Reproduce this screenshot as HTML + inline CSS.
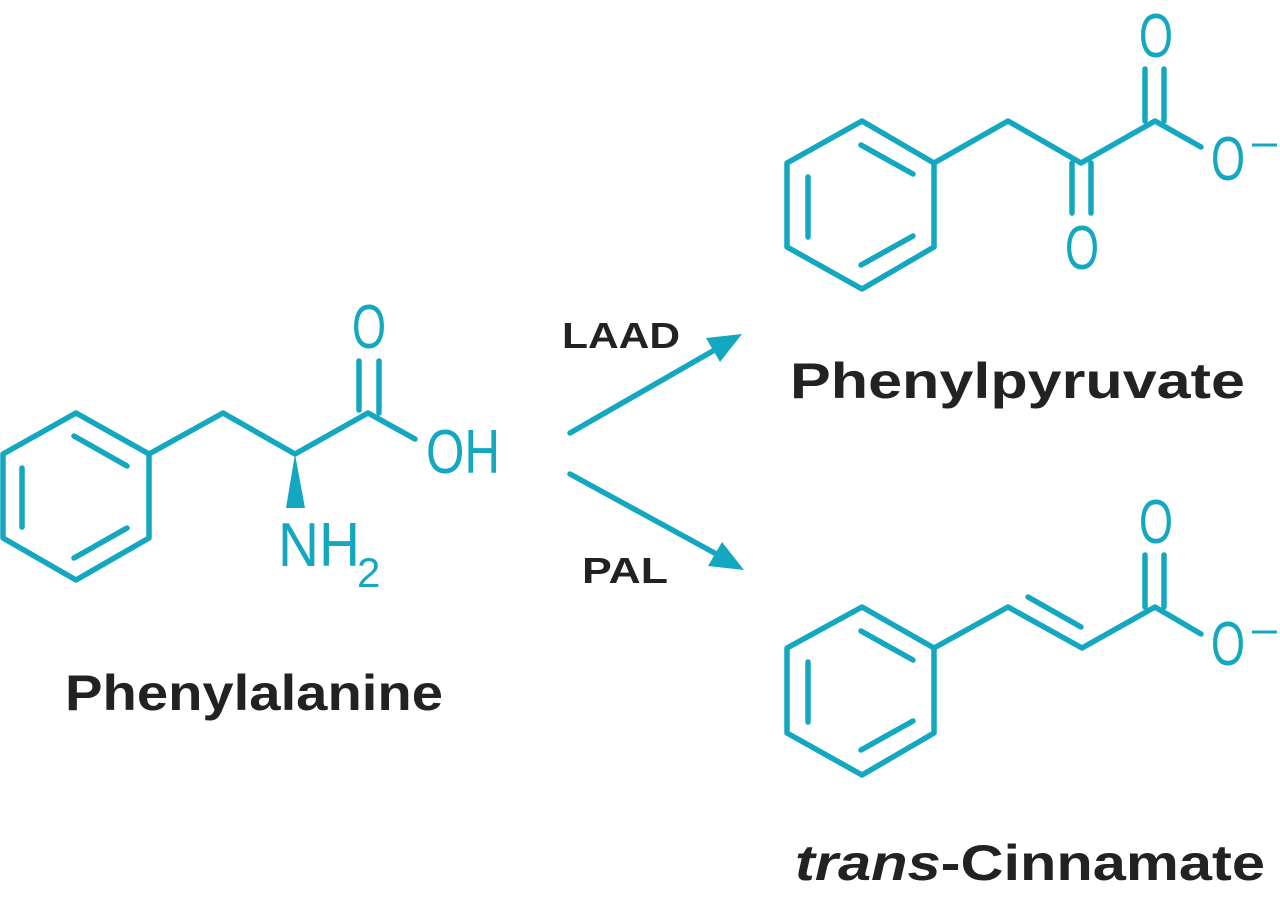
<!DOCTYPE html>
<html><head><meta charset="utf-8"><style>html,body{margin:0;padding:0;background:#fff}svg{display:block}</style></head>
<body>
<svg width="1280" height="904" viewBox="0 0 1280 904" xmlns="http://www.w3.org/2000/svg">
<g stroke="#13a7c0" stroke-width="5.5" fill="none" stroke-linecap="round" stroke-linejoin="round">
<polygon points="76,413 149,454 149,538 76,580 3,538 3,454"/>
<line x1="74" y1="436" x2="127" y2="466"/>
<line x1="22" y1="468" x2="22" y2="527"/>
<line x1="74" y1="558" x2="127" y2="528"/>
<polyline points="149,454 223,413 295,454 368,413 415,439"/>
<line x1="359" y1="361" x2="359" y2="410"/>
<line x1="379" y1="361" x2="379" y2="413"/>
<polygon points="862,121 934,163 934,247 862,289 787,247 787,163"/>
<line x1="861" y1="145" x2="913" y2="174"/>
<line x1="808" y1="177" x2="808" y2="237"/>
<line x1="861" y1="265" x2="913" y2="236"/>
<polyline points="934,163 1008,121 1081,163 1155,121 1201,147"/>
<line x1="1072" y1="163" x2="1072" y2="213"/>
<line x1="1091" y1="163" x2="1091" y2="213"/>
<line x1="1145" y1="121" x2="1145" y2="69"/>
<line x1="1164" y1="121" x2="1164" y2="69"/>
<polygon points="862,607 934,648 934,733 862,775 787,733 787,648"/>
<line x1="861" y1="631" x2="913" y2="660"/>
<line x1="808" y1="662" x2="808" y2="722"/>
<line x1="861" y1="750" x2="913" y2="721"/>
<polyline points="934,648 1008,607 1082,648 1155,607 1201,634"/>
<line x1="1028" y1="597" x2="1081" y2="627"/>
<line x1="1145" y1="607" x2="1145" y2="555"/>
<line x1="1164" y1="607" x2="1164" y2="555"/>
<line x1="570" y1="433" x2="718" y2="348"/>
<line x1="570" y1="474" x2="720" y2="556"/>
</g>
<g fill="#13a7c0">
<polygon points="295,454 286,508 305,508"/>
<polygon points="742,334 706,338 720,362"/>
<polygon points="744,570 708,566 722,542"/>
<line x1="1252" y1="145" x2="1277" y2="145" stroke="#13a7c0" stroke-width="3"/>
<line x1="1252" y1="632" x2="1277" y2="632" stroke="#13a7c0" stroke-width="3"/>
</g>
<g fill="#13a7c0" font-family="Liberation Sans, sans-serif" font-size="62">
<text x="352" y="348" textLength="34" lengthAdjust="spacingAndGlyphs">O</text>
<text x="426" y="473" textLength="74" lengthAdjust="spacingAndGlyphs">OH</text>
<text x="278" y="566" textLength="82" lengthAdjust="spacingAndGlyphs">NH</text>
<text x="357" y="587" font-size="42">2</text>
<text x="1139" y="57" textLength="34" lengthAdjust="spacingAndGlyphs">O</text>
<text x="1065" y="269" textLength="34" lengthAdjust="spacingAndGlyphs">O</text>
<text x="1211" y="180" textLength="34" lengthAdjust="spacingAndGlyphs">O</text>
<text x="1139" y="543" textLength="34" lengthAdjust="spacingAndGlyphs">O</text>
<text x="1211" y="665" textLength="34" lengthAdjust="spacingAndGlyphs">O</text>
</g>
<g fill="#222" font-family="Liberation Sans, sans-serif" font-weight="bold">
<text x="562" y="348" font-size="36" textLength="118" lengthAdjust="spacingAndGlyphs">LAAD</text>
<text x="582" y="583" font-size="36" textLength="86" lengthAdjust="spacingAndGlyphs">PAL</text>
<text x="790" y="398" font-size="50" textLength="455" lengthAdjust="spacingAndGlyphs">Phenylpyruvate</text>
<text x="65" y="710" font-size="50" textLength="378" lengthAdjust="spacingAndGlyphs">Phenylalanine</text>
<text x="795" y="880" font-size="50" textLength="470" lengthAdjust="spacingAndGlyphs"><tspan font-style="italic">trans</tspan>-Cinnamate</text>
</g>
</svg>
</body></html>
